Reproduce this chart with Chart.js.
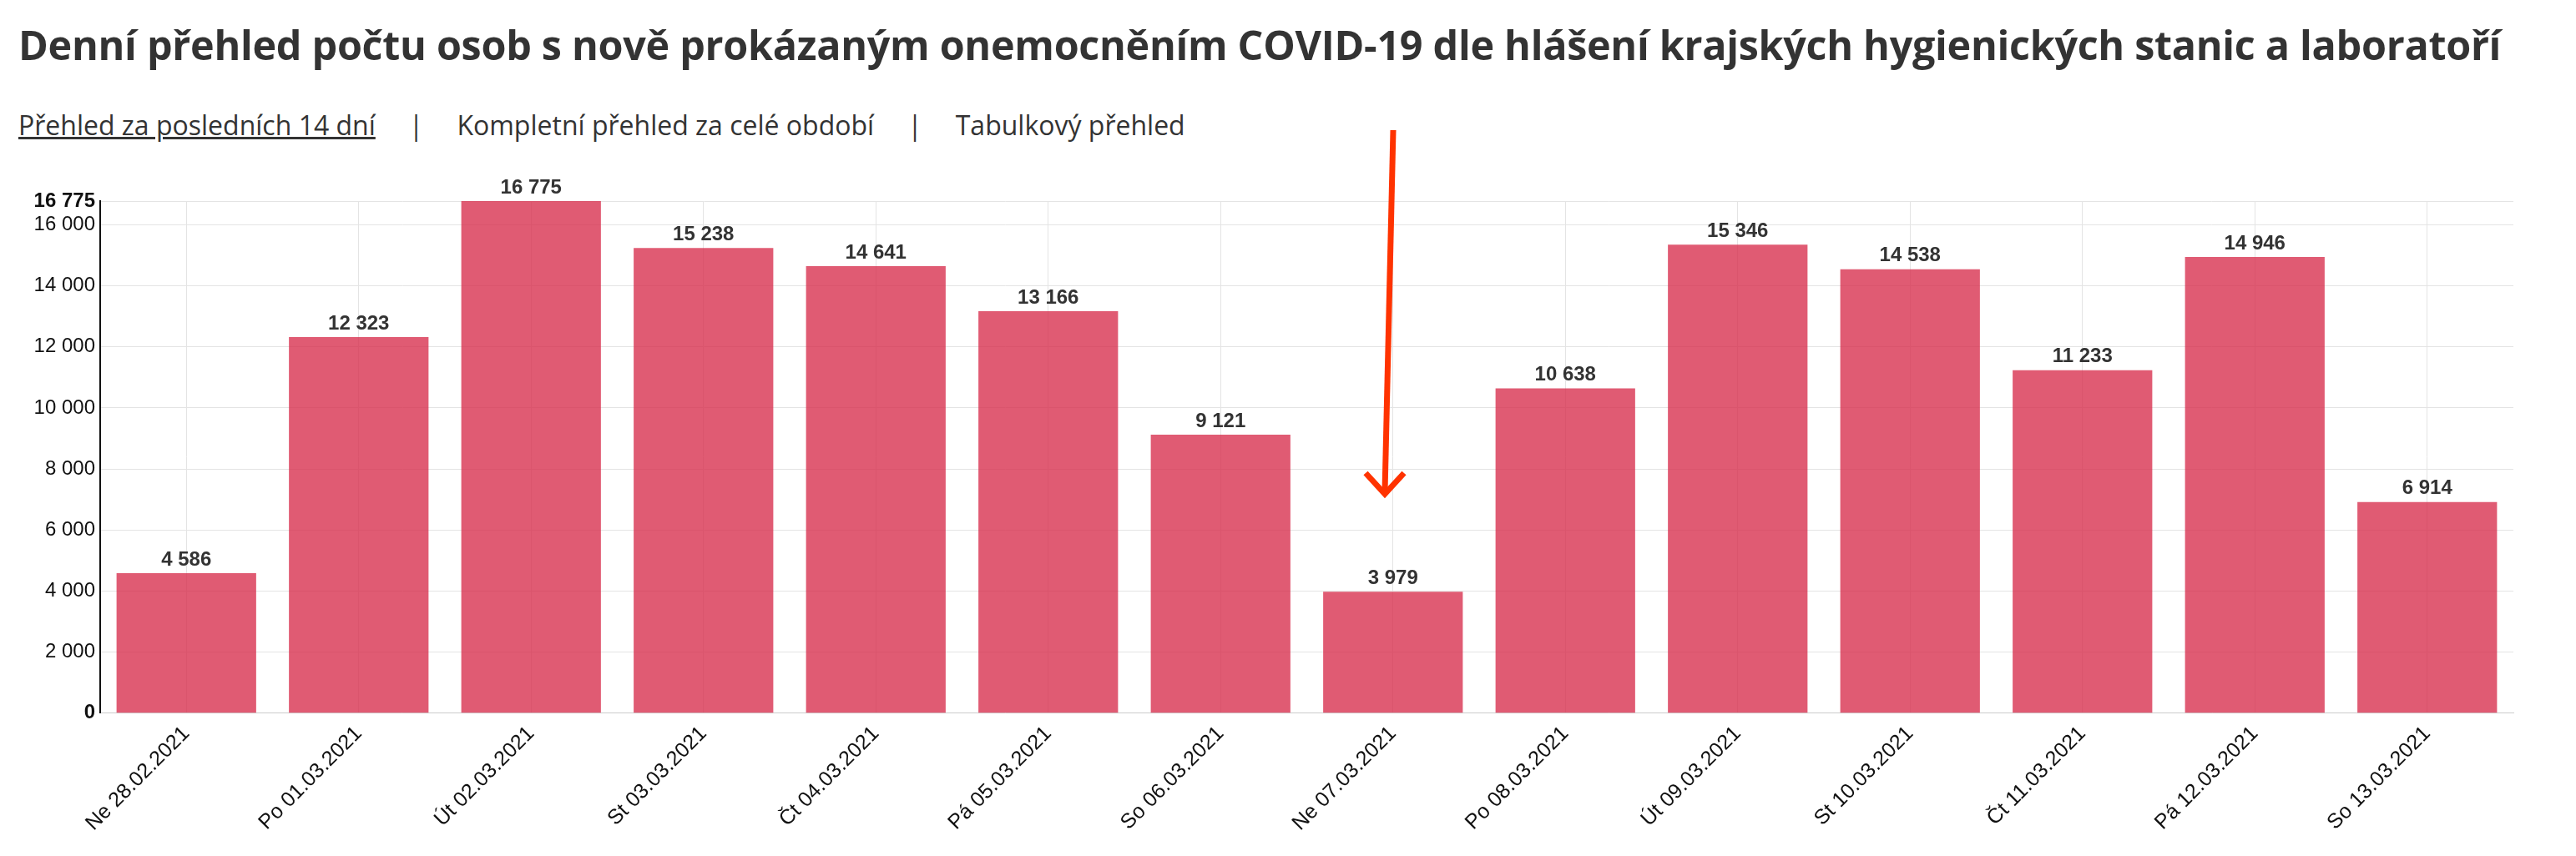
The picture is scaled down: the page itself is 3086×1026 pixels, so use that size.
<!DOCTYPE html>
<html><head><meta charset="utf-8">
<script src="https://cdn.jsdelivr.net/npm/chart.js@4"></script>
<style>
body{margin:0;background:#fff;width:3086px;height:1026px;overflow:hidden;position:relative;font-family:"Open Sans",sans-serif;color:#333}
h1{position:absolute;left:22px;top:20px;margin:0;font-size:48.5px;font-weight:700;color:#333;letter-spacing:-0.3px}
.nav{position:absolute;left:22px;top:128px;font-size:32px;color:#333}
.nav span{margin-right:40px}
.nav u{text-decoration:underline}
#wrap{position:absolute;left:0;top:205px;width:3086px;height:821px}
svg{position:absolute;left:0;top:0}
</style></head><body>
<h1>Denní přehled počtu osob s nově prokázaným onemocněním COVID-19 dle hlášení krajských hygienických stanic a laboratoří</h1>
<div class="nav"><span><u>Přehled za posledních 14 dní</u></span><span>|</span><span>Kompletní přehled za celé období</span><span>|</span><span>Tabulkový přehled</span></div>
<div id="wrap"><canvas id="c"></canvas></div>
<svg width="3086" height="1026"><line x1="1669" y1="156" x2="1659" y2="590" stroke="#ff3300" stroke-width="7"/><polyline points="1636,567 1659,592 1682,567" fill="none" stroke="#ff3300" stroke-width="7"/></svg>
<script>
const days = ["Ne 28.02.2021","Po 01.03.2021","Út 02.03.2021","St 03.03.2021","Čt 04.03.2021","Pá 05.03.2021","So 06.03.2021","Ne 07.03.2021","Po 08.03.2021","Út 09.03.2021","St 10.03.2021","Čt 11.03.2021","Pá 12.03.2021","So 13.03.2021"];
const cases = [4586,12323,16775,15238,14641,13166,9121,3979,10638,15346,14538,11233,14946,6914];
const maxCases = 16775;
const yTicks = [0,2000,4000,6000,8000,10000,12000,14000,16000,16775];

const fmt = (v) => String(v).replace(/\B(?=(\d{3})+(?!\d))/g, ' ');

const barLabels = {
  id: 'barLabels',
  afterDatasetsDraw(chart) {
    const ctx = chart.ctx;
    ctx.save();
    ctx.font = 'bold 24px Arial, "Liberation Sans"';
    ctx.fillStyle = '#333';
    ctx.textAlign = 'center';
    ctx.textBaseline = 'bottom';
    chart.getDatasetMeta(0).data.forEach((b, i) => ctx.fillText(fmt(cases[i]), b.x, b.y - 4));
    ctx.restore();
  }
};

Chart.defaults.font.family = 'Arial, "Liberation Sans"';
new Chart(document.getElementById('c'), {
  type: 'bar',
  data: { labels: days, datasets: [{ data: cases, backgroundColor: 'rgba(215,45,75,0.78)', barPercentage: 0.81, categoryPercentage: 1 }] },
  options: {
    responsive: true, maintainAspectRatio: false, animation: false, devicePixelRatio: 1,
    layout: { padding: { left: 0, right: 75, top: 36, bottom: 14 } },
    plugins: { legend: { display: false }, tooltip: { enabled: false } },
    scales: {
      x: {
        offset: true,
        grid: { offset: false, color: '#e4e4e4', drawTicks: false },
        border: { color: '#ccc' },
        ticks: { color: '#111', font: { size: 25 }, maxRotation: 45, minRotation: 45, padding: 10 }
      },
      y: {
        min: 0, max: maxCases,
        afterBuildTicks: (s) => { s.ticks = yTicks.map(v => ({ value: v })); },
        afterFit: (s) => { s.width = 120; },
        grid: { color: '#e4e4e4', drawTicks: false },
        border: { color: '#111', width: 2 },
        ticks: {
          autoSkip: false, color: '#111', padding: 6,
          font: (c) => ({ size: 24, weight: (c.tick && (c.tick.value === maxCases || c.tick.value === 0)) ? 'bold' : 'normal' }),
          callback: (v) => fmt(v)
        }
      }
    }
  },
  plugins: [barLabels]
});
</script>
</body></html>
